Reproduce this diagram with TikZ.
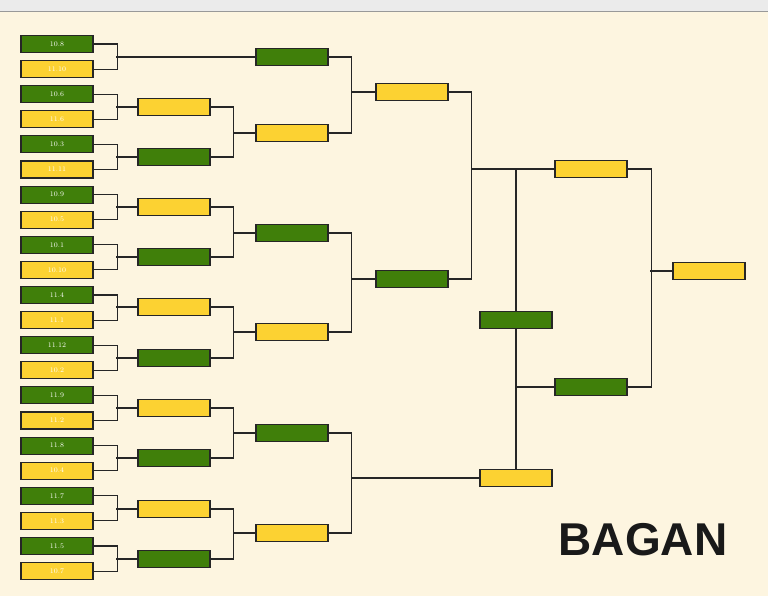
\documentclass[tikz,border=0pt]{standalone}
\usepackage{fontspec}
\setsansfont{Liberation Sans}
\usepackage{tikz}
\usetikzlibrary{calc}

\definecolor{paper}{HTML}{FDF5E0}
\definecolor{leaf}{HTML}{407F0A}
\definecolor{sun}{HTML}{FCD232}
\tikzset{
  slot/.style = {draw = black!85, line width = 1.1pt, minimum width = 72pt,
    minimum height = 17pt, inner sep = 0pt, text = white, font = \fontsize{7}{8}\selectfont},
  gslot/.style = {slot, fill = leaf},
  yslot/.style = {slot, fill = sun},
  wire/.style = {line width = 1.1pt, black!85}
}

\begin{document}
\begin{tikzpicture}[x = 1pt, y = -1pt]
\useasboundingbox (0, 0) rectangle (768, 596);
\fill [paper] (0, 0) rectangle (768, 596);
\fill [black!8] (0, 0) rectangle (768, 11);
\draw [black!40, line width = 1pt] (0, 12) -- (768, 12);

% first round
\foreach \t [count = \i] in {10.8, 11.10, 10.6, 11.6, 10.3, 11.11, 10.9, 10.5, 10.1, 10.10, 11.4,
    11.1, 11.12, 10.2, 11.9, 11.2, 11.8, 10.4, 11.7, 11.3, 11.5, 10.7} {
  \pgfmathsetmacro{\yy}{44 + 25.1 * (\i - 1)}
  \ifodd\i
    \node [gslot] (l\i) at (57, \yy) {\t};
  \else
    \node [yslot] (l\i) at (57, \yy) {\t};
  \fi
}

% second round
\node [yslot] (b2) at (174, 107) {}; \node [gslot] (b3) at (174, 157) {};
\node [yslot] (b4) at (174, 207) {}; \node [gslot] (b5) at (174, 257) {};
\node [yslot] (b6) at (174, 307) {}; \node [gslot] (b7) at (174, 358) {};
\node [yslot] (b8) at (174, 408) {}; \node [gslot] (b9) at (174, 458) {};
\node [yslot] (b10) at (174, 509) {}; \node [gslot] (b11) at (174, 559) {};

% third round
\node [gslot] (c1) at (292, 57) {}; \node [yslot] (c2) at (292, 133) {};
\node [gslot] (c3) at (292, 233) {}; \node [yslot] (c4) at (292, 332) {};
\node [gslot] (c5) at (292, 433) {}; \node [yslot] (c6) at (292, 533) {};

% fourth round
\node [yslot] (d1) at (412, 92) {};
\node [gslot] (d2) at (412, 279) {};
\node [yslot] (d3) at (516, 478) {};
\node [gslot] (m) at (516, 320) {};
\node [yslot] (e1) at (591, 169) {};
\node [gslot] (e2) at (591, 387) {};
\node [yslot] (f) at (709, 271) {};

% connectors
\foreach \a/\b in {1/2, 3/4, 5/6, 7/8, 9/10, 11/12, 13/14, 15/16, 17/18, 19/20, 21/22}
  \draw [wire] (l\a.east) -- ++(24, 0) |- (l\b.east);
\draw [wire] (c1.west) -- ++(-139, 0);
\foreach \i in {2, ..., 11}
  \draw [wire] (b\i.west) -- ++(-21, 0);
\foreach \a/\b/\c in {2/3/2, 4/5/3, 6/7/4, 8/9/5, 10/11/6} {
  \draw [wire] (b\a.east) -- ++(23, 0) |- (b\b.east);
  \draw [wire] (c\c.west) -- ++(-22, 0);
}
\draw [wire] (c1.east) -- ++(23, 0) |- (c2.east); \draw [wire] (d1.west) -- ++(-24, 0);
\draw [wire] (c3.east) -- ++(23, 0) |- (c4.east); \draw [wire] (d2.west) -- ++(-24, 0);
\draw [wire] (c5.east) -- ++(23, 0) |- (c6.east); \draw [wire] (d3.west) -- ++(-128, 0);
\draw [wire] (d1.east) -- ++(23, 0) |- (d2.east); \draw [wire] (e1.west) -- ++(-83, 0);
\draw [wire] (m.north) -- (m.north |- e1.west);
\draw [wire] (m.south) -- (d3.north);
\draw [wire] (e2.west) -- (e2.west -| m.south);
\draw [wire] (e1.east) -- ++(24, 0) |- (e2.east); \draw [wire] (f.west) -- ++(-22, 0);

\node [font = \sffamily\bfseries\fontsize{46}{46}\selectfont, text = black!90] (title) at (643, 540) {BAGAN};
\end{tikzpicture}
\end{document}
